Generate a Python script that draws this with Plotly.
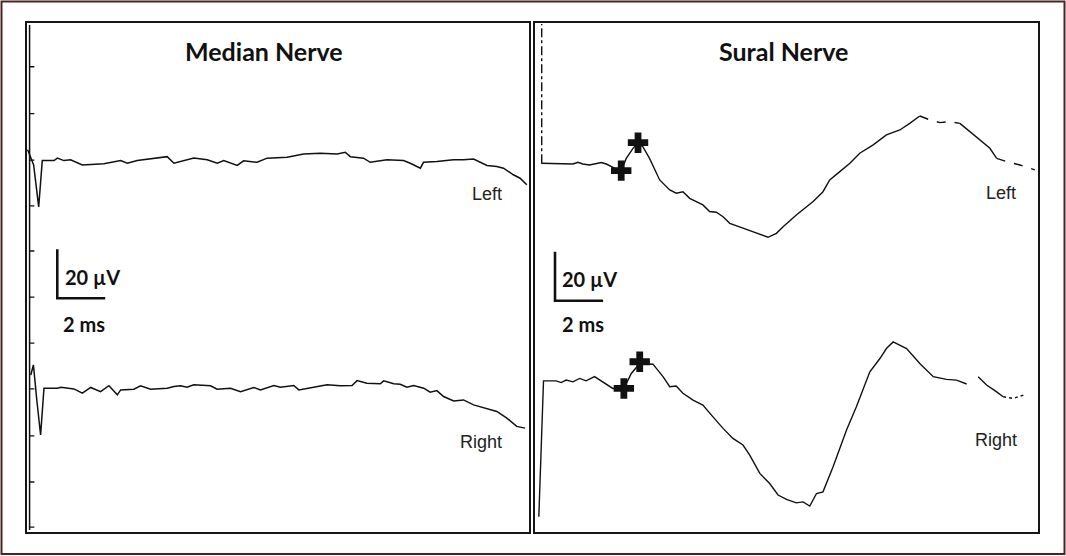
import plotly.graph_objects as go

# ---------------- data (time in ms, amplitude in µV relative to each trace baseline) ----------------
median_left_ms = [0.04, 0.29, 0.50, 0.65, 1.14, 1.28, 1.55, 1.83, 2.32, 3.22, 3.92, 4.20, 4.61, 5.17, 5.86,
                  6.14, 6.97, 7.53, 7.95, 8.22, 8.78, 9.05, 9.61, 10.03, 10.86, 11.55, 12.25, 12.95, 13.29,
                  13.50, 14.05, 14.33, 15.03, 15.72, 16.00, 16.42, 16.55, 17.11, 17.80, 18.22, 18.64, 19.20,
                  19.61, 19.89, 20.30, 20.58, 20.86]
median_left_uv = [4.4, -1.8, -18.9, 0, 0, 1.0, 0, 0.3, -1.8, -1.3, 0, -1.1, 0, 0.6, 1.6,
                  -1.1, 1.0, 0.3, -1.1, 0, -2.0, -0.1, -0.7, 1.0, 1.4, 2.7, 3.0, 2.7, 3.4,
                  1.6, 1.0, -0.7, 0.3, 0, -1.1, -3.1, -0.7, -0.4, 0.3, 0.3, 0.6, -2.0,
                  -2.4, -3.1, -5.8, -7.2, -9.9]

median_right_ms = [0.17, 0.28, 0.42, 0.58, 0.72, 1.28, 1.42, 1.97, 2.32, 2.67, 3.08, 3.43, 3.78, 3.92, 4.47,
                   4.75, 5.17, 5.86, 6.14, 6.42, 6.69, 6.97, 7.67, 7.94, 8.50, 8.92, 9.47, 9.75, 10.31, 10.58,
                   11.14, 11.35, 11.97, 12.53, 13.08, 13.57, 13.78, 14.19, 14.75, 14.89, 15.31, 15.58, 15.86,
                   16.14, 16.56, 16.83, 17.11, 17.39, 17.81, 18.22, 18.64, 19.19, 19.61, 20.03, 20.44, 20.79]
median_right_uv = [5.4, 9.5, -4.7, -19.1, 0, 0, 0.4, -0.3, -2.0, 0.3, -1.4, 1.0, -2.7, -0.7, -0.4,
                   1.0, -0.4, 0, 0.7, 1.0, 0.4, 1.4, 1.0, -0.4, 0, -1.4, 0.3, -0.7, 1.1, 0.4,
                   1.1, -0.7, 0.4, 1.4, 1.0, 1.1, 3.1, 2.0, 1.8, 3.0, 1.8, 1.6, 0.4,
                   1.1, 0, -1.6, -1.0, -3.4, -5.2, -4.8, -6.8, -8.2, -9.5, -12.2, -15.6, -16.3]

sural_left_ms = [0.28, 1.60, 1.81, 2.01, 2.29, 2.57, 2.78, 2.99, 3.33, 3.61, 3.82, 4.10, 4.31, 4.51, 4.79,
                 5.21, 5.63, 5.90, 6.18, 6.46, 7.01, 7.29, 7.57, 7.85, 8.13, 8.68, 9.24, 9.72, 10.07, 10.35,
                 10.90, 11.60, 12.01, 12.29, 12.71, 13.13, 13.54, 14.10, 14.65, 15.21, 15.62, 16.04, 16.46,
                 16.88, 17.29, 17.71, 18.13, 18.54, 18.96, 19.24, 19.65, 20.21, 20.83]
sural_left_uv = [0, -0.3, 0.4, -0.3, -0.7, 0, 0.3, -0.3, -2.0, -3.0, 2.0, 6.1, 8.4, 6.8, 2.0,
                 -6.8, -10.9, -12.2, -11.6, -14.3, -17.0, -19.7, -20.0, -21.8, -24.5, -26.5, -28.6, -30.2,
                 -28.6, -25.9, -21.1, -15.6, -11.6, -6.8, -3.4, 0, 4.1, 7.5, 11.6, 13.6, 16.3, 19.3, 17.7,
                 16.6, 17.0, 16.3, 12.9, 9.5, 6.1, 2.0, 0.7, -0.7, -2.7]

sural_right_ms = [0.18, 0.375, 0.90, 1.11, 1.32, 1.60, 1.88, 2.15, 2.50, 2.85, 3.26, 3.72, 4.03, 4.38, 4.93,
                  5.35, 5.63, 5.90, 6.18, 6.60, 7.01, 7.43, 7.85, 8.26, 8.68, 8.96, 9.38, 9.79, 10.14, 10.49,
                  10.90, 11.18, 11.46, 11.74, 12.01, 12.43, 12.99, 13.40, 13.96, 14.38, 14.65, 14.93, 15.49,
                  16.04, 16.60, 17.15, 17.57, 17.99, 18.47, 18.82, 19.24, 19.51, 19.93, 20.35]
sural_right_uv = [-55.8, -0.3, -0.3, -1.0, 0, -0.7, 0.7, -0.3, 1.4, -0.7, -3.4, -3.4, 2.7, 6.8, 6.5,
                  1.4, -2.7, -2.4, -5.4, -8.2, -10.2, -15.0, -19.7, -23.8, -26.5, -30.6, -38.1, -42.2,
                  -46.9, -48.7, -50.1, -49.7, -51.4, -46.3, -45.6, -35.4, -20.4, -10.9, 3.4, 8.8, 12.9,
                  15.6, 12.9, 6.8, 1.4, 0.3, 0, -1.6, 1.4, -2.0, -4.8, -6.8, -7.5, -6.1]

# onset / peak markers (+)
sural_left_mark_ms = [3.61, 4.31]
sural_left_mark_uv = [-3.0, 8.4]
sural_right_mark_ms = [3.72, 4.38]
sural_right_mark_uv = [-3.4, 7.5]

# recording grid ticks on the median panel (µV, panel coordinates)
median_tick_uv = [2.0, 20.4, 39.2, 58.4, 77.1, 95.9, 114.7, 133.1, 151.8, 170.8, 189.9]

panel_titles = ["Median Nerve", "Sural Nerve"]
trace_labels = ["Left", "Right"]
scale_uv = 20
scale_ms = 2

# ---------------- layout constants ----------------
W, H = 1066, 556
X_RANGE = [0, 20.94]
Y_RANGE = [0, 207.96]
BASE_MEDIAN = {"Left": 151.6, "Right": 58.7}
BASE_SURAL = {"Left": 150.5, "Right": 62.0}
LINE = "#111111"

fig = go.Figure()


def add_line(xs, ys, base, xa, ya, width=1.5, dash="solid"):
    fig.add_trace(go.Scatter(x=xs, y=[base + v for v in ys], mode="lines",
                             line=dict(color=LINE, width=width, dash=dash),
                             xaxis=xa, yaxis=ya, hoverinfo="skip", showlegend=False))


# Median nerve traces
add_line(median_left_ms, median_left_uv, BASE_MEDIAN["Left"], "x", "y", 1.5)
add_line(median_right_ms, median_right_uv, BASE_MEDIAN["Right"], "x", "y", 1.5)

# Sural left trace (with broken segments at the end)
segL = [(0, 42, "solid"), (41, 46, "dash"), (45, 50, "solid"), (49, 53, "dash")]
for a, b, d in segL:
    add_line(sural_left_ms[a:b], sural_left_uv[a:b], BASE_SURAL["Left"], "x2", "y2", 1.4, d)

# Sural right trace (gap and dotted tail)
segR = [(0, 48, "solid"), (48, 52, "solid"), (51, 54, "dot")]
for a, b, d in segR:
    add_line(sural_right_ms[a:b], sural_right_uv[a:b], BASE_SURAL["Right"], "x2", "y2", 1.4, d)

# + markers
for mx, my, base in [(sural_left_mark_ms, sural_left_mark_uv, BASE_SURAL["Left"]),
                     (sural_right_mark_ms, sural_right_mark_uv, BASE_SURAL["Right"])]:
    fig.add_trace(go.Scatter(x=mx, y=[base + v for v in my], mode="markers",
                             marker=dict(symbol="cross", size=17, color=LINE),
                             xaxis="x2", yaxis="y2", hoverinfo="skip", showlegend=False))

# recording axis in median panel with ticks
fig.add_trace(go.Scatter(x=[0.12, 0.12], y=[0.8, 206.9], mode="lines",
                         line=dict(color=LINE, width=1.5), xaxis="x", yaxis="y",
                         hoverinfo="skip", showlegend=False))
for t in median_tick_uv:
    fig.add_shape(type="line", xref="x", yref="y", x0=0.12, x1=0.32, y0=t, y1=t,
                  line=dict(color=LINE, width=1.3))

# recording axis in sural panel (dash-dot, top part)
fig.add_trace(go.Scatter(x=[0.30, 0.30], y=[BASE_SURAL["Left"], 207.3], mode="lines",
                         line=dict(color=LINE, width=1.4, dash="dashdot"), xaxis="x2", yaxis="y2",
                         hoverinfo="skip", showlegend=False))

# scale bars
scale_pos = [("x", "y", 1.275, 95.4), ("x2", "y2", 0.854, 94.4)]
for xa, ya, x0, y0 in scale_pos:
    fig.add_trace(go.Scatter(x=[x0, x0, x0 + scale_ms], y=[y0 + scale_uv, y0, y0], mode="lines",
                             line=dict(color=LINE, width=2.6), xaxis=xa, yaxis=ya,
                             hoverinfo="skip", showlegend=False))

ann = []
TITLE_FONT = dict(family="Lato, Open Sans, sans-serif", size=25, color="#111111")
SCALE_FONT = dict(family="Lato, Open Sans, sans-serif", size=20, color="#111111")
LABEL_FONT = dict(family="Liberation Sans Narrow, Liberation Sans, Arial, sans-serif", size=18, color="#222222")

ann.append(dict(text="<b>%s</b>" % panel_titles[0], x=9.89, y=196.3, xref="x", yref="y", showarrow=False, font=TITLE_FONT))
ann.append(dict(text="<b>%s</b>" % panel_titles[1], x=10.35, y=196.3, xref="x2", yref="y2", showarrow=False, font=TITLE_FONT))

ann.append(dict(text=trace_labels[0], x=19.22, y=138.0, xref="x", yref="y", showarrow=False, font=LABEL_FONT))
ann.append(dict(text=trace_labels[1], x=18.97, y=36.7, xref="x", yref="y", showarrow=False, font=LABEL_FONT))
ann.append(dict(text=trace_labels[0], x=19.40, y=138.4, xref="x2", yref="y2", showarrow=False, font=LABEL_FONT))
ann.append(dict(text=trace_labels[1], x=19.23, y=37.6, xref="x2", yref="y2", showarrow=False, font=LABEL_FONT))

ann.append(dict(text="<b>%d µV</b>" % scale_uv, x=2.76, y=104.1, xref="x", yref="y", showarrow=False, font=SCALE_FONT))
ann.append(dict(text="<b>%d ms</b>" % scale_ms, x=2.41, y=85.1, xref="x", yref="y", showarrow=False, font=SCALE_FONT))
ann.append(dict(text="<b>%d µV</b>" % scale_uv, x=2.31, y=103.1, xref="x2", yref="y2", showarrow=False, font=SCALE_FONT))
ann.append(dict(text="<b>%d ms</b>" % scale_ms, x=2.00, y=84.7, xref="x2", yref="y2", showarrow=False, font=SCALE_FONT))

axis_common = dict(showline=True, mirror=True, linecolor="#161616", linewidth=2,
                   showgrid=False, zeroline=False, showticklabels=False, ticks="", fixedrange=True)

fig.update_layout(
    width=W, height=H,
    margin=dict(l=0, r=0, t=0, b=0),
    paper_bgcolor="white", plot_bgcolor="white",
    showlegend=False,
    xaxis=dict(domain=[26.7 / W, 528.7 / W], range=X_RANGE, anchor="y", **axis_common),
    yaxis=dict(domain=[24 / H, 533.5 / H], range=Y_RANGE, anchor="x", **axis_common),
    xaxis2=dict(domain=[534.5 / W, 1037.5 / W], range=X_RANGE, anchor="y2", **axis_common),
    yaxis2=dict(domain=[24 / H, 533.5 / H], range=Y_RANGE, anchor="x2", **axis_common),
    annotations=ann,
)

# outer frame
fig.add_shape(type="rect", xref="paper", yref="paper", x0=1.5 / W, x1=1 - 1.5 / W,
              y0=2 / H, y1=1 - 1.5 / H, line=dict(color="#4a2424", width=2))

fig.write_html("out.html", config={"displayModeBar": False},
               post_script="document.body.style.margin='0';document.body.style.overflow='hidden';")
